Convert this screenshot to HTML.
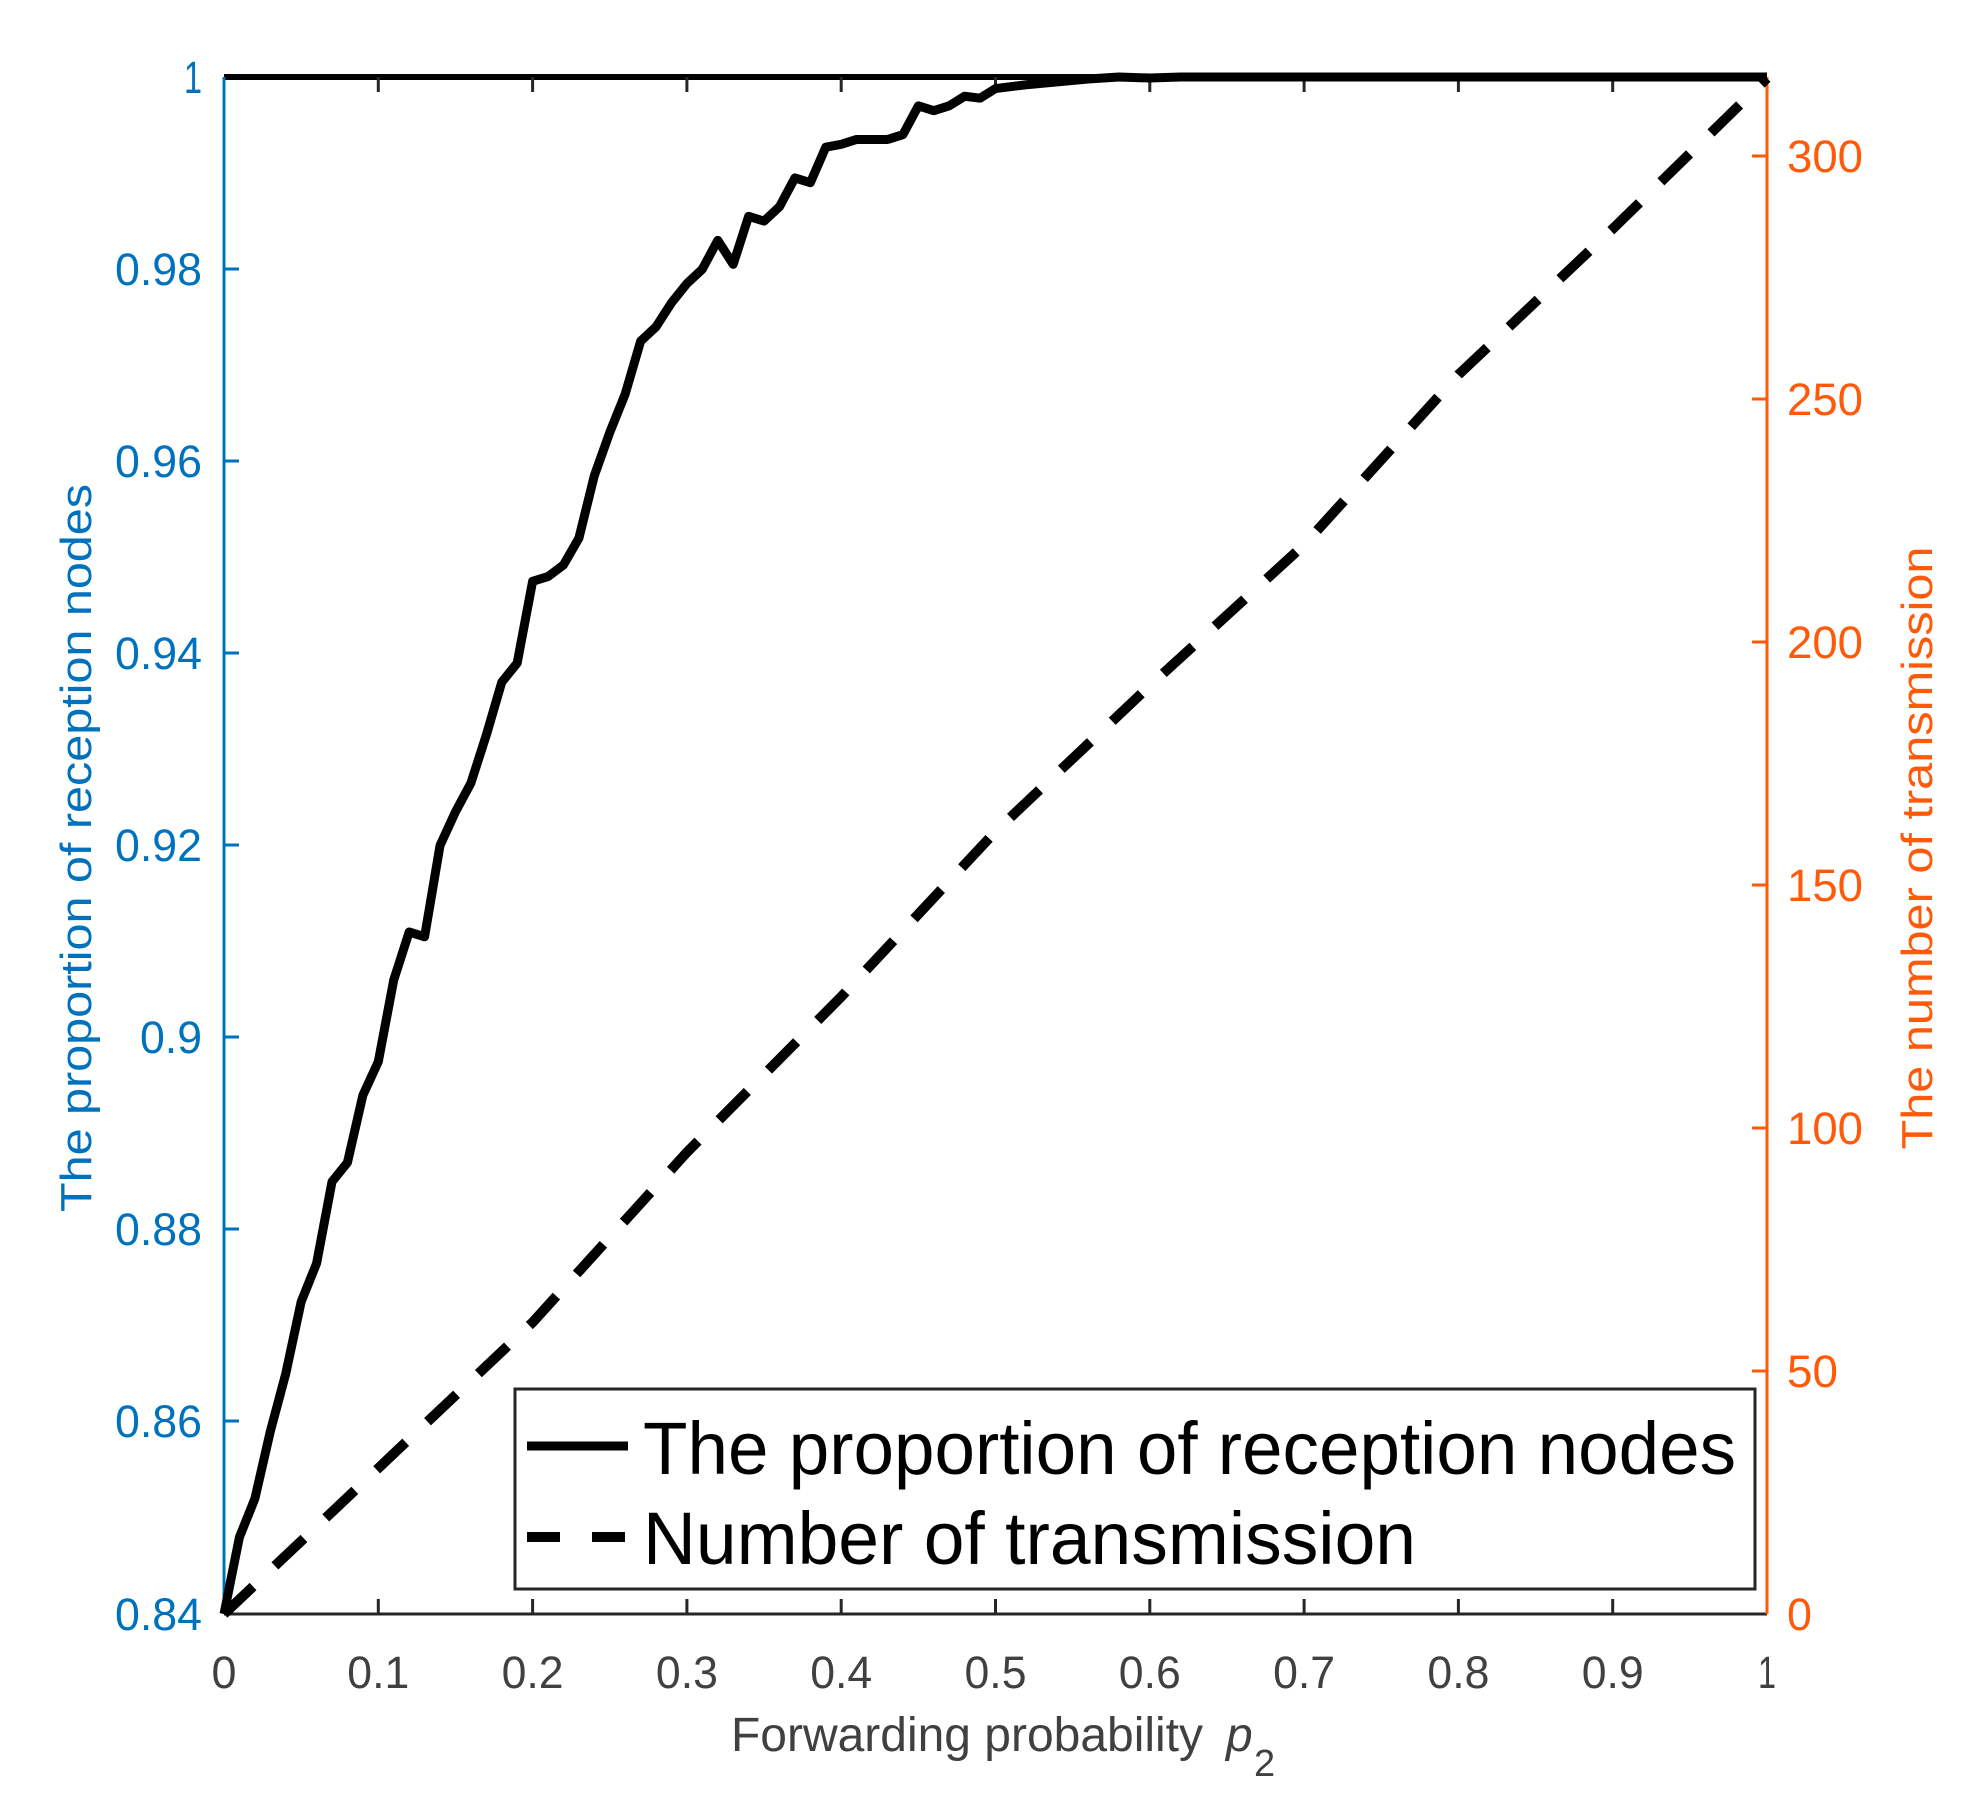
<!DOCTYPE html>
<html><head><meta charset="utf-8"><style>
html,body{margin:0;padding:0;background:#fff;}
svg{display:block;}
text{font-family:"Liberation Sans",Arial,sans-serif;}
</style></head><body>
<svg width="1968" height="1796" viewBox="0 0 1968 1796" xmlns="http://www.w3.org/2000/svg">
<rect width="1968" height="1796" fill="#fff"/>
<line x1="224" y1="77" x2="1767" y2="77" stroke="#000" stroke-width="6"/>
<line x1="224" y1="1614" x2="1767" y2="1614" stroke="#262626" stroke-width="3"/>
<line x1="224" y1="77" x2="224" y2="1614" stroke="#0072BD" stroke-width="3"/>
<line x1="1767" y1="77" x2="1767" y2="1614" stroke="#FF5A0A" stroke-width="3"/>
<g stroke="#262626" stroke-width="3">
<line x1="378.3" y1="1614" x2="378.3" y2="1599"/><line x1="532.6" y1="1614" x2="532.6" y2="1599"/>
<line x1="686.9" y1="1614" x2="686.9" y2="1599"/><line x1="841.2" y1="1614" x2="841.2" y2="1599"/>
<line x1="995.5" y1="1614" x2="995.5" y2="1599"/><line x1="1149.8" y1="1614" x2="1149.8" y2="1599"/>
<line x1="1304.1" y1="1614" x2="1304.1" y2="1599"/><line x1="1458.4" y1="1614" x2="1458.4" y2="1599"/>
<line x1="1612.7" y1="1614" x2="1612.7" y2="1599"/>
<line x1="378.3" y1="77" x2="378.3" y2="92"/><line x1="532.6" y1="77" x2="532.6" y2="92"/>
<line x1="686.9" y1="77" x2="686.9" y2="92"/><line x1="841.2" y1="77" x2="841.2" y2="92"/>
<line x1="995.5" y1="77" x2="995.5" y2="92"/><line x1="1149.8" y1="77" x2="1149.8" y2="92"/>
<line x1="1304.1" y1="77" x2="1304.1" y2="92"/><line x1="1458.4" y1="77" x2="1458.4" y2="92"/>
<line x1="1612.7" y1="77" x2="1612.7" y2="92"/>
</g>
<g fill="#404040" font-size="45" text-anchor="middle">
<text x="224" y="1688" textLength="25" lengthAdjust="spacingAndGlyphs">0</text>
<text x="378.3" y="1688" textLength="62" lengthAdjust="spacingAndGlyphs">0.1</text>
<text x="532.6" y="1688" textLength="62" lengthAdjust="spacingAndGlyphs">0.2</text>
<text x="686.9" y="1688" textLength="62" lengthAdjust="spacingAndGlyphs">0.3</text>
<text x="841.2" y="1688" textLength="62" lengthAdjust="spacingAndGlyphs">0.4</text>
<text x="995.5" y="1688" textLength="62" lengthAdjust="spacingAndGlyphs">0.5</text>
<text x="1149.8" y="1688" textLength="62" lengthAdjust="spacingAndGlyphs">0.6</text>
<text x="1304.1" y="1688" textLength="62" lengthAdjust="spacingAndGlyphs">0.7</text>
<text x="1458.4" y="1688" textLength="62" lengthAdjust="spacingAndGlyphs">0.8</text>
<text x="1612.7" y="1688" textLength="62" lengthAdjust="spacingAndGlyphs">0.9</text>
<text x="1767" y="1688" textLength="18" lengthAdjust="spacingAndGlyphs">1</text>
</g>
<text x="731" y="1751" fill="#404040" font-size="48" textLength="472" lengthAdjust="spacingAndGlyphs">Forwarding probability</text>
<text x="1226" y="1751" fill="#404040" font-size="48" font-style="italic">p</text>
<text x="1254" y="1776" fill="#404040" font-size="38">2</text>
<g stroke="#0072BD" stroke-width="3">
<line x1="224" y1="1421" x2="239" y2="1421"/><line x1="224" y1="1229" x2="239" y2="1229"/>
<line x1="224" y1="1037" x2="239" y2="1037"/><line x1="224" y1="845" x2="239" y2="845"/>
<line x1="224" y1="653" x2="239" y2="653"/><line x1="224" y1="461" x2="239" y2="461"/>
<line x1="224" y1="269" x2="239" y2="269"/>
</g>
<g fill="#0072BD" font-size="45" text-anchor="end">
<text x="202" y="1630" textLength="87" lengthAdjust="spacingAndGlyphs">0.84</text>
<text x="202" y="1437" textLength="87" lengthAdjust="spacingAndGlyphs">0.86</text>
<text x="202" y="1245" textLength="87" lengthAdjust="spacingAndGlyphs">0.88</text>
<text x="202" y="1053" textLength="62" lengthAdjust="spacingAndGlyphs">0.9</text>
<text x="202" y="861" textLength="87" lengthAdjust="spacingAndGlyphs">0.92</text>
<text x="202" y="669" textLength="87" lengthAdjust="spacingAndGlyphs">0.94</text>
<text x="202" y="477" textLength="87" lengthAdjust="spacingAndGlyphs">0.96</text>
<text x="202" y="285" textLength="87" lengthAdjust="spacingAndGlyphs">0.98</text>
<text x="202" y="93" textLength="18" lengthAdjust="spacingAndGlyphs">1</text>
</g>
<text transform="translate(91,848) rotate(-90)" fill="#0072BD" font-size="44" text-anchor="middle" textLength="728" lengthAdjust="spacingAndGlyphs">The proportion of reception nodes</text>
<g stroke="#FF5A0A" stroke-width="3">
<line x1="1752" y1="1371" x2="1767" y2="1371"/><line x1="1752" y1="1128" x2="1767" y2="1128"/>
<line x1="1752" y1="885" x2="1767" y2="885"/><line x1="1752" y1="642" x2="1767" y2="642"/>
<line x1="1752" y1="399" x2="1767" y2="399"/><line x1="1752" y1="156" x2="1767" y2="156"/>
</g>
<g fill="#FF5A0A" font-size="45">
<text x="1787" y="1630" textLength="25" lengthAdjust="spacingAndGlyphs">0</text>
<text x="1787" y="1387" textLength="51" lengthAdjust="spacingAndGlyphs">50</text>
<text x="1787" y="1144" textLength="76" lengthAdjust="spacingAndGlyphs">100</text>
<text x="1787" y="901" textLength="76" lengthAdjust="spacingAndGlyphs">150</text>
<text x="1787" y="658" textLength="76" lengthAdjust="spacingAndGlyphs">200</text>
<text x="1787" y="415" textLength="76" lengthAdjust="spacingAndGlyphs">250</text>
<text x="1787" y="172" textLength="76" lengthAdjust="spacingAndGlyphs">300</text>
</g>
<text transform="translate(1932,848) rotate(-90)" fill="#FF5A0A" font-size="44" text-anchor="middle" textLength="603" lengthAdjust="spacingAndGlyphs">The number of transmission</text>
<g transform="translate(224,1614) scale(1543,-9606)">
<polyline fill="none" stroke="#000" stroke-width="9" stroke-linejoin="round" vector-effect="non-scaling-stroke"
points="0,0 0.01,0.008 0.02,0.012 0.03,0.019 0.04,0.025 0.05,0.0325 0.06,0.0365 0.07,0.045 0.08,0.047 0.09,0.054 0.10,0.0575 0.11,0.066 0.12,0.071 0.13,0.0705 0.14,0.080 0.15,0.0835 0.16,0.0865 0.17,0.0915 0.18,0.097 0.19,0.099 0.20,0.1075 0.21,0.108 0.22,0.1092 0.23,0.112 0.24,0.1185 0.25,0.123 0.26,0.127 0.27,0.1325 0.28,0.134 0.29,0.1365 0.30,0.1385 0.31,0.140 0.32,0.143 0.33,0.1405 0.34,0.1455 0.35,0.145 0.36,0.1465 0.37,0.1495 0.38,0.149 0.39,0.1527 0.40,0.153 0.41,0.1535 0.42,0.1535 0.43,0.1535 0.44,0.154 0.45,0.157 0.46,0.1565 0.47,0.157 0.48,0.158 0.49,0.1578 0.50,0.1588 0.52,0.1592 0.54,0.1595 0.56,0.1598 0.58,0.16 0.6,0.1599 0.62,0.16 1,0.16"/>
</g>
<polyline fill="none" stroke="#000" stroke-width="10" stroke-dasharray="40,30"
points="224,1614 378.3,1468.2 532.6,1322.4 686.9,1152.3 841.2,996.8 995.5,831.5 1149.8,685.7 1304.1,544.8 1458.4,374.7 1612.7,228.9 1767,78.2"/>
<rect x="515" y="1389" width="1240" height="200" fill="#fff" stroke="#262626" stroke-width="3"/>
<line x1="527" y1="1446" x2="628" y2="1446" stroke="#000" stroke-width="9"/>
<line x1="527" y1="1537" x2="628" y2="1537" stroke="#000" stroke-width="10" stroke-dasharray="33,32"/>
<text x="643" y="1474" font-size="74" fill="#000" textLength="1093" lengthAdjust="spacingAndGlyphs">The proportion of reception nodes</text>
<text x="643" y="1564" font-size="74" fill="#000" textLength="773" lengthAdjust="spacingAndGlyphs">Number of transmission</text>
</svg>
</body></html>
